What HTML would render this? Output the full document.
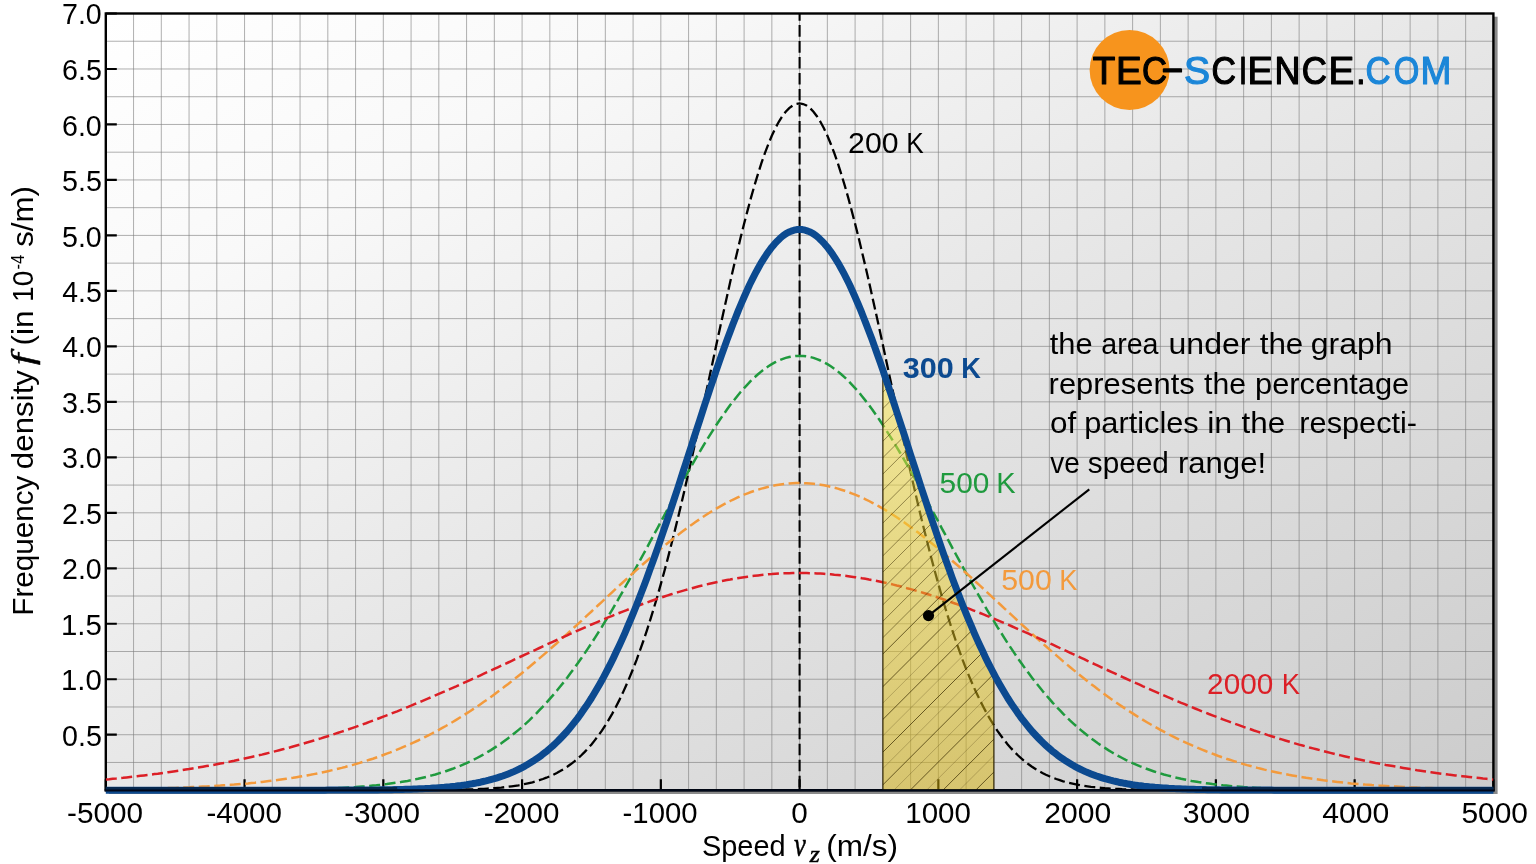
<!DOCTYPE html>
<html lang="en"><head><meta charset="utf-8"><title>Maxwell-Boltzmann distribution of the speed component</title>
<style>html,body{margin:0;padding:0;background:#fff;overflow:hidden}svg{display:block}text{font-family:'Liberation Sans',sans-serif;font-size:29.7px}.s{font-family:'Liberation Serif',serif;font-style:italic;stroke:#000;stroke-width:0.5px}.b{font-weight:bold}</style>
</head><body>
<svg width="1536" height="864" viewBox="0 0 1536 864">
<defs>
<linearGradient id="bg" x1="0" y1="0" x2="1" y2="1"><stop offset="0" stop-color="#ffffff"/><stop offset="0.2" stop-color="#f9f9f9"/><stop offset="0.5" stop-color="#e7e7e7"/><stop offset="1" stop-color="#cccccc"/></linearGradient>
<linearGradient id="yl" x1="0" y1="0" x2="0" y2="1"><stop offset="0" stop-color="#ffea4a"/><stop offset="1" stop-color="#d6b208"/></linearGradient>
<clipPath id="plot"><rect x="105.80" y="13.50" width="1387.60" height="776.70"/></clipPath>
</defs>
<rect width="1536" height="864" fill="#fff"/>
<rect x="108.80" y="16.70" width="1388.80" height="777.30" fill="#8a8a8a"/>
<rect x="105.80" y="13.50" width="1387.60" height="776.70" fill="url(#bg)"/>
<g stroke="#7c7c7c" stroke-opacity="0.6" stroke-width="1" fill="none"><path d="M133.55 13.50V790.20M161.30 13.50V790.20M189.06 13.50V790.20M216.81 13.50V790.20M244.56 13.50V790.20M272.31 13.50V790.20M300.06 13.50V790.20M327.82 13.50V790.20M355.57 13.50V790.20M383.32 13.50V790.20M411.07 13.50V790.20M438.82 13.50V790.20M466.58 13.50V790.20M494.33 13.50V790.20M522.08 13.50V790.20M549.83 13.50V790.20M577.58 13.50V790.20M605.34 13.50V790.20M633.09 13.50V790.20M660.84 13.50V790.20M688.59 13.50V790.20M716.34 13.50V790.20M744.10 13.50V790.20M771.85 13.50V790.20M799.60 13.50V790.20M827.35 13.50V790.20M855.10 13.50V790.20M882.86 13.50V790.20M910.61 13.50V790.20M938.36 13.50V790.20M966.11 13.50V790.20M993.86 13.50V790.20M1021.62 13.50V790.20M1049.37 13.50V790.20M1077.12 13.50V790.20M1104.87 13.50V790.20M1132.62 13.50V790.20M1160.38 13.50V790.20M1188.13 13.50V790.20M1215.88 13.50V790.20M1243.63 13.50V790.20M1271.38 13.50V790.20M1299.14 13.50V790.20M1326.89 13.50V790.20M1354.64 13.50V790.20M1382.39 13.50V790.20M1410.14 13.50V790.20M1437.90 13.50V790.20M1465.65 13.50V790.20"/><path d="M105.80 41.24H1493.40M105.80 68.98H1493.40M105.80 96.72H1493.40M105.80 124.46H1493.40M105.80 152.20H1493.40M105.80 179.94H1493.40M105.80 207.68H1493.40M105.80 235.41H1493.40M105.80 263.15H1493.40M105.80 290.89H1493.40M105.80 318.63H1493.40M105.80 346.37H1493.40M105.80 374.11H1493.40M105.80 401.85H1493.40M105.80 429.59H1493.40M105.80 457.33H1493.40M105.80 485.07H1493.40M105.80 512.81H1493.40M105.80 540.55H1493.40M105.80 568.29H1493.40M105.80 596.02H1493.40M105.80 623.76H1493.40M105.80 651.50H1493.40M105.80 679.24H1493.40M105.80 706.98H1493.40M105.80 734.72H1493.40M105.80 762.46H1493.40"/></g>
<path d="M105.80 790.20V779.20M244.56 790.20V779.20M383.32 790.20V779.20M522.08 790.20V779.20M660.84 790.20V779.20M799.60 790.20V779.20M938.36 790.20V779.20M1077.12 790.20V779.20M1215.88 790.20V779.20M1354.64 790.20V779.20M1493.40 790.20V779.20M105.80 790.20H116.80M105.80 734.72H116.80M105.80 679.24H116.80M105.80 623.76H116.80M105.80 568.29H116.80M105.80 512.81H116.80M105.80 457.33H116.80M105.80 401.85H116.80M105.80 346.37H116.80M105.80 290.89H116.80M105.80 235.41H116.80M105.80 179.94H116.80M105.80 124.46H116.80M105.80 68.98H116.80M105.80 13.50H116.80" stroke="#000" stroke-width="2.2" fill="none"/>
<rect x="105.80" y="13.50" width="1387.60" height="776.70" fill="none" stroke="#000" stroke-width="2.4"/>
<g clip-path="url(#plot)" fill="none" stroke-width="2.5" stroke-dasharray="11 4.5">
<path d="M799.60 13.50V790.20" stroke="#000" stroke-width="2.1" stroke-dasharray="11.6 4.37" stroke-dashoffset="4.4"/>
<path d="M105.8 790.2L109.3 790.2L112.7 790.2L116.2 790.2L119.7 790.2L123.1 790.2L126.6 790.2L130.1 790.2L133.6 790.2L137.0 790.2L140.5 790.2L144.0 790.2L147.4 790.2L150.9 790.2L154.4 790.2L157.8 790.2L161.3 790.2L164.8 790.2L168.2 790.2L171.7 790.2L175.2 790.2L178.6 790.2L182.1 790.2L185.6 790.2L189.1 790.2L192.5 790.2L196.0 790.2L199.5 790.2L202.9 790.2L206.4 790.2L209.9 790.2L213.3 790.2L216.8 790.2L220.3 790.2L223.7 790.2L227.2 790.2L230.7 790.2L234.2 790.2L237.6 790.2L241.1 790.2L244.6 790.2L248.0 790.2L251.5 790.2L255.0 790.2L258.4 790.2L261.9 790.2L265.4 790.2L268.8 790.2L272.3 790.2L275.8 790.2L279.2 790.2L282.7 790.2L286.2 790.2L289.7 790.2L293.1 790.2L296.6 790.2L300.1 790.2L303.5 790.2L307.0 790.2L310.5 790.2L313.9 790.2L317.4 790.2L320.9 790.2L324.3 790.2L327.8 790.2L331.3 790.2L334.8 790.2L338.2 790.2L341.7 790.2L345.2 790.2L348.6 790.2L352.1 790.2L355.6 790.2L359.0 790.2L362.5 790.2L366.0 790.2L369.4 790.2L372.9 790.2L376.4 790.2L379.9 790.2L383.3 790.2L386.8 790.2L390.3 790.2L393.7 790.2L397.2 790.2L400.7 790.2L404.1 790.2L407.6 790.2L411.1 790.1L414.5 790.1L418.0 790.1L421.5 790.1L424.9 790.1L428.4 790.1L431.9 790.1L435.4 790.0L438.8 790.0L442.3 790.0L445.8 789.9L449.2 789.9L452.7 789.8L456.2 789.8L459.6 789.7L463.1 789.6L466.6 789.5L470.0 789.4L473.5 789.3L477.0 789.2L480.5 789.0L483.9 788.8L487.4 788.6L490.9 788.4L494.3 788.2L497.8 787.9L501.3 787.6L504.7 787.2L508.2 786.8L511.7 786.3L515.1 785.8L518.6 785.3L522.1 784.6L525.5 783.9L529.0 783.1L532.5 782.3L536.0 781.3L539.4 780.2L542.9 779.0L546.4 777.7L549.8 776.3L553.3 774.7L556.8 773.0L560.2 771.1L563.7 769.0L567.2 766.7L570.6 764.3L574.1 761.6L577.6 758.7L581.1 755.5L584.5 752.1L588.0 748.4L591.5 744.4L594.9 740.1L598.4 735.5L601.9 730.6L605.3 725.3L608.8 719.6L612.3 713.6L615.7 707.2L619.2 700.4L622.7 693.1L626.1 685.5L629.6 677.4L633.1 668.8L636.6 659.8L640.0 650.4L643.5 640.5L647.0 630.1L650.4 619.3L653.9 608.0L657.4 596.3L660.8 584.1L664.3 571.5L667.8 558.4L671.2 545.0L674.7 531.1L678.2 516.9L681.7 502.3L685.1 487.5L688.6 472.3L692.1 456.9L695.5 441.2L699.0 425.4L702.5 409.4L705.9 393.3L709.4 377.2L712.9 361.0L716.3 344.9L719.8 328.9L723.3 313.0L726.8 297.3L730.2 281.9L733.7 266.7L737.2 252.0L740.6 237.6L744.1 223.7L747.6 210.4L751.0 197.6L754.5 185.4L758.0 173.9L761.4 163.2L764.9 153.2L768.4 144.0L771.8 135.7L775.3 128.3L778.8 121.8L782.3 116.2L785.7 111.7L789.2 108.1L792.7 105.5L796.1 104.0L799.6 103.4L803.1 104.0L806.5 105.5L810.0 108.1L813.5 111.7L816.9 116.2L820.4 121.8L823.9 128.3L827.4 135.7L830.8 144.0L834.3 153.2L837.8 163.2L841.2 173.9L844.7 185.4L848.2 197.6L851.6 210.4L855.1 223.7L858.6 237.6L862.0 252.0L865.5 266.7L869.0 281.9L872.4 297.3L875.9 313.0L879.4 328.9L882.9 344.9L886.3 361.0L889.8 377.2L893.3 393.3L896.7 409.4L900.2 425.4L903.7 441.2L907.1 456.9L910.6 472.3L914.1 487.5L917.5 502.3L921.0 516.9L924.5 531.1L928.0 545.0L931.4 558.4L934.9 571.5L938.4 584.1L941.8 596.3L945.3 608.0L948.8 619.3L952.2 630.1L955.7 640.5L959.2 650.4L962.6 659.8L966.1 668.8L969.6 677.4L973.1 685.5L976.5 693.1L980.0 700.4L983.5 707.2L986.9 713.6L990.4 719.6L993.9 725.3L997.3 730.6L1000.8 735.5L1004.3 740.1L1007.7 744.4L1011.2 748.4L1014.7 752.1L1018.1 755.5L1021.6 758.7L1025.1 761.6L1028.6 764.3L1032.0 766.7L1035.5 769.0L1039.0 771.1L1042.4 773.0L1045.9 774.7L1049.4 776.3L1052.8 777.7L1056.3 779.0L1059.8 780.2L1063.2 781.3L1066.7 782.3L1070.2 783.1L1073.7 783.9L1077.1 784.6L1080.6 785.3L1084.1 785.8L1087.5 786.3L1091.0 786.8L1094.5 787.2L1097.9 787.6L1101.4 787.9L1104.9 788.2L1108.3 788.4L1111.8 788.6L1115.3 788.8L1118.7 789.0L1122.2 789.2L1125.7 789.3L1129.2 789.4L1132.6 789.5L1136.1 789.6L1139.6 789.7L1143.0 789.8L1146.5 789.8L1150.0 789.9L1153.4 789.9L1156.9 790.0L1160.4 790.0L1163.8 790.0L1167.3 790.1L1170.8 790.1L1174.3 790.1L1177.7 790.1L1181.2 790.1L1184.7 790.1L1188.1 790.1L1191.6 790.2L1195.1 790.2L1198.5 790.2L1202.0 790.2L1205.5 790.2L1208.9 790.2L1212.4 790.2L1215.9 790.2L1219.3 790.2L1222.8 790.2L1226.3 790.2L1229.8 790.2L1233.2 790.2L1236.7 790.2L1240.2 790.2L1243.6 790.2L1247.1 790.2L1250.6 790.2L1254.0 790.2L1257.5 790.2L1261.0 790.2L1264.4 790.2L1267.9 790.2L1271.4 790.2L1274.9 790.2L1278.3 790.2L1281.8 790.2L1285.3 790.2L1288.7 790.2L1292.2 790.2L1295.7 790.2L1299.1 790.2L1302.6 790.2L1306.1 790.2L1309.5 790.2L1313.0 790.2L1316.5 790.2L1320.0 790.2L1323.4 790.2L1326.9 790.2L1330.4 790.2L1333.8 790.2L1337.3 790.2L1340.8 790.2L1344.2 790.2L1347.7 790.2L1351.2 790.2L1354.6 790.2L1358.1 790.2L1361.6 790.2L1365.0 790.2L1368.5 790.2L1372.0 790.2L1375.5 790.2L1378.9 790.2L1382.4 790.2L1385.9 790.2L1389.3 790.2L1392.8 790.2L1396.3 790.2L1399.7 790.2L1403.2 790.2L1406.7 790.2L1410.1 790.2L1413.6 790.2L1417.1 790.2L1420.6 790.2L1424.0 790.2L1427.5 790.2L1431.0 790.2L1434.4 790.2L1437.9 790.2L1441.4 790.2L1444.8 790.2L1448.3 790.2L1451.8 790.2L1455.2 790.2L1458.7 790.2L1462.2 790.2L1465.6 790.2L1469.1 790.2L1472.6 790.2L1476.1 790.2L1479.5 790.2L1483.0 790.2L1486.5 790.2L1489.9 790.2L1493.4 790.2" stroke="#000" stroke-width="2.3"/>
<path d="M105.8 790.2L109.3 790.2L112.7 790.2L116.2 790.2L119.7 790.2L123.1 790.2L126.6 790.2L130.1 790.2L133.6 790.2L137.0 790.2L140.5 790.2L144.0 790.2L147.4 790.2L150.9 790.2L154.4 790.2L157.8 790.2L161.3 790.2L164.8 790.2L168.2 790.2L171.7 790.2L175.2 790.2L178.6 790.2L182.1 790.2L185.6 790.2L189.1 790.2L192.5 790.2L196.0 790.2L199.5 790.1L202.9 790.1L206.4 790.1L209.9 790.1L213.3 790.1L216.8 790.1L220.3 790.1L223.7 790.1L227.2 790.1L230.7 790.1L234.2 790.1L237.6 790.0L241.1 790.0L244.6 790.0L248.0 790.0L251.5 790.0L255.0 789.9L258.4 789.9L261.9 789.9L265.4 789.9L268.8 789.8L272.3 789.8L275.8 789.7L279.2 789.7L282.7 789.7L286.2 789.6L289.7 789.5L293.1 789.5L296.6 789.4L300.1 789.4L303.5 789.3L307.0 789.2L310.5 789.1L313.9 789.0L317.4 788.9L320.9 788.8L324.3 788.7L327.8 788.5L331.3 788.4L334.8 788.2L338.2 788.1L341.7 787.9L345.2 787.7L348.6 787.5L352.1 787.3L355.6 787.1L359.0 786.8L362.5 786.5L366.0 786.3L369.4 785.9L372.9 785.6L376.4 785.3L379.9 784.9L383.3 784.5L386.8 784.1L390.3 783.6L393.7 783.1L397.2 782.6L400.7 782.1L404.1 781.5L407.6 780.9L411.1 780.2L414.5 779.5L418.0 778.8L421.5 778.0L424.9 777.2L428.4 776.3L431.9 775.4L435.4 774.5L438.8 773.4L442.3 772.4L445.8 771.2L449.2 770.0L452.7 768.8L456.2 767.4L459.6 766.1L463.1 764.6L466.6 763.1L470.0 761.5L473.5 759.8L477.0 758.0L480.5 756.2L483.9 754.2L487.4 752.2L490.9 750.1L494.3 747.9L497.8 745.7L501.3 743.3L504.7 740.8L508.2 738.2L511.7 735.5L515.1 732.8L518.6 729.9L522.1 726.9L525.5 723.8L529.0 720.6L532.5 717.2L536.0 713.8L539.4 710.2L542.9 706.6L546.4 702.8L549.8 698.9L553.3 694.9L556.8 690.8L560.2 686.5L563.7 682.2L567.2 677.7L570.6 673.1L574.1 668.4L577.6 663.5L581.1 658.6L584.5 653.6L588.0 648.4L591.5 643.2L594.9 637.8L598.4 632.3L601.9 626.8L605.3 621.1L608.8 615.4L612.3 609.6L615.7 603.7L619.2 597.7L622.7 591.6L626.1 585.5L629.6 579.3L633.1 573.0L636.6 566.7L640.0 560.4L643.5 554.0L647.0 547.6L650.4 541.2L653.9 534.7L657.4 528.3L660.8 521.8L664.3 515.4L667.8 508.9L671.2 502.5L674.7 496.1L678.2 489.8L681.7 483.5L685.1 477.2L688.6 471.0L692.1 464.9L695.5 458.9L699.0 453.0L702.5 447.1L705.9 441.4L709.4 435.8L712.9 430.3L716.3 425.0L719.8 419.8L723.3 414.7L726.8 409.8L730.2 405.1L733.7 400.6L737.2 396.2L740.6 392.0L744.1 388.1L747.6 384.3L751.0 380.7L754.5 377.4L758.0 374.3L761.4 371.4L764.9 368.7L768.4 366.3L771.8 364.1L775.3 362.2L778.8 360.5L782.3 359.1L785.7 357.9L789.2 357.0L792.7 356.4L796.1 356.0L799.6 355.9L803.1 356.0L806.5 356.4L810.0 357.0L813.5 357.9L816.9 359.1L820.4 360.5L823.9 362.2L827.4 364.1L830.8 366.3L834.3 368.7L837.8 371.4L841.2 374.3L844.7 377.4L848.2 380.7L851.6 384.3L855.1 388.1L858.6 392.0L862.0 396.2L865.5 400.6L869.0 405.1L872.4 409.8L875.9 414.7L879.4 419.8L882.9 425.0L886.3 430.3L889.8 435.8L893.3 441.4L896.7 447.1L900.2 453.0L903.7 458.9L907.1 464.9L910.6 471.0L914.1 477.2L917.5 483.5L921.0 489.8L924.5 496.1L928.0 502.5L931.4 508.9L934.9 515.4L938.4 521.8L941.8 528.3L945.3 534.7L948.8 541.2L952.2 547.6L955.7 554.0L959.2 560.4L962.6 566.7L966.1 573.0L969.6 579.3L973.1 585.5L976.5 591.6L980.0 597.7L983.5 603.7L986.9 609.6L990.4 615.4L993.9 621.1L997.3 626.8L1000.8 632.3L1004.3 637.8L1007.7 643.2L1011.2 648.4L1014.7 653.6L1018.1 658.6L1021.6 663.5L1025.1 668.4L1028.6 673.1L1032.0 677.7L1035.5 682.2L1039.0 686.5L1042.4 690.8L1045.9 694.9L1049.4 698.9L1052.8 702.8L1056.3 706.6L1059.8 710.2L1063.2 713.8L1066.7 717.2L1070.2 720.6L1073.7 723.8L1077.1 726.9L1080.6 729.9L1084.1 732.8L1087.5 735.5L1091.0 738.2L1094.5 740.8L1097.9 743.3L1101.4 745.7L1104.9 747.9L1108.3 750.1L1111.8 752.2L1115.3 754.2L1118.7 756.2L1122.2 758.0L1125.7 759.8L1129.2 761.5L1132.6 763.1L1136.1 764.6L1139.6 766.1L1143.0 767.4L1146.5 768.8L1150.0 770.0L1153.4 771.2L1156.9 772.4L1160.4 773.4L1163.8 774.5L1167.3 775.4L1170.8 776.3L1174.3 777.2L1177.7 778.0L1181.2 778.8L1184.7 779.5L1188.1 780.2L1191.6 780.9L1195.1 781.5L1198.5 782.1L1202.0 782.6L1205.5 783.1L1208.9 783.6L1212.4 784.1L1215.9 784.5L1219.3 784.9L1222.8 785.3L1226.3 785.6L1229.8 785.9L1233.2 786.3L1236.7 786.5L1240.2 786.8L1243.6 787.1L1247.1 787.3L1250.6 787.5L1254.0 787.7L1257.5 787.9L1261.0 788.1L1264.4 788.2L1267.9 788.4L1271.4 788.5L1274.9 788.7L1278.3 788.8L1281.8 788.9L1285.3 789.0L1288.7 789.1L1292.2 789.2L1295.7 789.3L1299.1 789.4L1302.6 789.4L1306.1 789.5L1309.5 789.5L1313.0 789.6L1316.5 789.7L1320.0 789.7L1323.4 789.7L1326.9 789.8L1330.4 789.8L1333.8 789.9L1337.3 789.9L1340.8 789.9L1344.2 789.9L1347.7 790.0L1351.2 790.0L1354.6 790.0L1358.1 790.0L1361.6 790.0L1365.0 790.1L1368.5 790.1L1372.0 790.1L1375.5 790.1L1378.9 790.1L1382.4 790.1L1385.9 790.1L1389.3 790.1L1392.8 790.1L1396.3 790.1L1399.7 790.1L1403.2 790.2L1406.7 790.2L1410.1 790.2L1413.6 790.2L1417.1 790.2L1420.6 790.2L1424.0 790.2L1427.5 790.2L1431.0 790.2L1434.4 790.2L1437.9 790.2L1441.4 790.2L1444.8 790.2L1448.3 790.2L1451.8 790.2L1455.2 790.2L1458.7 790.2L1462.2 790.2L1465.6 790.2L1469.1 790.2L1472.6 790.2L1476.1 790.2L1479.5 790.2L1483.0 790.2L1486.5 790.2L1489.9 790.2L1493.4 790.2" stroke="#1f9a3e"/>
<path d="M105.8 789.5L109.3 789.4L112.7 789.4L116.2 789.3L119.7 789.3L123.1 789.2L126.6 789.1L130.1 789.1L133.6 789.0L137.0 788.9L140.5 788.9L144.0 788.8L147.4 788.7L150.9 788.6L154.4 788.5L157.8 788.4L161.3 788.3L164.8 788.2L168.2 788.1L171.7 788.0L175.2 787.9L178.6 787.7L182.1 787.6L185.6 787.4L189.1 787.3L192.5 787.1L196.0 787.0L199.5 786.8L202.9 786.6L206.4 786.4L209.9 786.2L213.3 786.0L216.8 785.8L220.3 785.6L223.7 785.3L227.2 785.1L230.7 784.8L234.2 784.6L237.6 784.3L241.1 784.0L244.6 783.7L248.0 783.4L251.5 783.0L255.0 782.7L258.4 782.3L261.9 781.9L265.4 781.5L268.8 781.1L272.3 780.7L275.8 780.3L279.2 779.8L282.7 779.3L286.2 778.8L289.7 778.3L293.1 777.8L296.6 777.2L300.1 776.6L303.5 776.0L307.0 775.4L310.5 774.8L313.9 774.1L317.4 773.4L320.9 772.7L324.3 772.0L327.8 771.2L331.3 770.4L334.8 769.6L338.2 768.7L341.7 767.9L345.2 767.0L348.6 766.0L352.1 765.1L355.6 764.1L359.0 763.1L362.5 762.0L366.0 760.9L369.4 759.8L372.9 758.7L376.4 757.5L379.9 756.3L383.3 755.0L386.8 753.7L390.3 752.4L393.7 751.0L397.2 749.6L400.7 748.2L404.1 746.7L407.6 745.2L411.1 743.7L414.5 742.1L418.0 740.5L421.5 738.8L424.9 737.1L428.4 735.3L431.9 733.5L435.4 731.7L438.8 729.9L442.3 727.9L445.8 726.0L449.2 724.0L452.7 722.0L456.2 719.9L459.6 717.8L463.1 715.6L466.6 713.4L470.0 711.2L473.5 708.9L477.0 706.6L480.5 704.2L483.9 701.8L487.4 699.4L490.9 696.9L494.3 694.4L497.8 691.8L501.3 689.3L504.7 686.6L508.2 684.0L511.7 681.2L515.1 678.5L518.6 675.7L522.1 672.9L525.5 670.1L529.0 667.2L532.5 664.3L536.0 661.4L539.4 658.4L542.9 655.4L546.4 652.4L549.8 649.4L553.3 646.3L556.8 643.2L560.2 640.1L563.7 637.0L567.2 633.9L570.6 630.7L574.1 627.5L577.6 624.4L581.1 621.2L584.5 617.9L588.0 614.7L591.5 611.5L594.9 608.3L598.4 605.0L601.9 601.8L605.3 598.6L608.8 595.4L612.3 592.1L615.7 588.9L619.2 585.7L622.7 582.5L626.1 579.3L629.6 576.2L633.1 573.0L636.6 569.9L640.0 566.8L643.5 563.7L647.0 560.7L650.4 557.7L653.9 554.7L657.4 551.7L660.8 548.8L664.3 545.9L667.8 543.0L671.2 540.2L674.7 537.5L678.2 534.8L681.7 532.1L685.1 529.5L688.6 526.9L692.1 524.4L695.5 522.0L699.0 519.6L702.5 517.2L705.9 515.0L709.4 512.8L712.9 510.6L716.3 508.6L719.8 506.6L723.3 504.6L726.8 502.8L730.2 501.0L733.7 499.3L737.2 497.7L740.6 496.1L744.1 494.7L747.6 493.3L751.0 492.0L754.5 490.8L758.0 489.7L761.4 488.6L764.9 487.7L768.4 486.8L771.8 486.0L775.3 485.3L778.8 484.7L782.3 484.2L785.7 483.8L789.2 483.5L792.7 483.3L796.1 483.1L799.6 483.1L803.1 483.1L806.5 483.3L810.0 483.5L813.5 483.8L816.9 484.2L820.4 484.7L823.9 485.3L827.4 486.0L830.8 486.8L834.3 487.7L837.8 488.6L841.2 489.7L844.7 490.8L848.2 492.0L851.6 493.3L855.1 494.7L858.6 496.1L862.0 497.7L865.5 499.3L869.0 501.0L872.4 502.8L875.9 504.6L879.4 506.6L882.9 508.6L886.3 510.6L889.8 512.8L893.3 515.0L896.7 517.2L900.2 519.6L903.7 522.0L907.1 524.4L910.6 526.9L914.1 529.5L917.5 532.1L921.0 534.8L924.5 537.5L928.0 540.2L931.4 543.0L934.9 545.9L938.4 548.8L941.8 551.7L945.3 554.7L948.8 557.7L952.2 560.7L955.7 563.7L959.2 566.8L962.6 569.9L966.1 573.0L969.6 576.2L973.1 579.3L976.5 582.5L980.0 585.7L983.5 588.9L986.9 592.1L990.4 595.4L993.9 598.6L997.3 601.8L1000.8 605.0L1004.3 608.3L1007.7 611.5L1011.2 614.7L1014.7 617.9L1018.1 621.2L1021.6 624.4L1025.1 627.5L1028.6 630.7L1032.0 633.9L1035.5 637.0L1039.0 640.1L1042.4 643.2L1045.9 646.3L1049.4 649.4L1052.8 652.4L1056.3 655.4L1059.8 658.4L1063.2 661.4L1066.7 664.3L1070.2 667.2L1073.7 670.1L1077.1 672.9L1080.6 675.7L1084.1 678.5L1087.5 681.2L1091.0 684.0L1094.5 686.6L1097.9 689.3L1101.4 691.8L1104.9 694.4L1108.3 696.9L1111.8 699.4L1115.3 701.8L1118.7 704.2L1122.2 706.6L1125.7 708.9L1129.2 711.2L1132.6 713.4L1136.1 715.6L1139.6 717.8L1143.0 719.9L1146.5 722.0L1150.0 724.0L1153.4 726.0L1156.9 727.9L1160.4 729.9L1163.8 731.7L1167.3 733.5L1170.8 735.3L1174.3 737.1L1177.7 738.8L1181.2 740.5L1184.7 742.1L1188.1 743.7L1191.6 745.2L1195.1 746.7L1198.5 748.2L1202.0 749.6L1205.5 751.0L1208.9 752.4L1212.4 753.7L1215.9 755.0L1219.3 756.3L1222.8 757.5L1226.3 758.7L1229.8 759.8L1233.2 760.9L1236.7 762.0L1240.2 763.1L1243.6 764.1L1247.1 765.1L1250.6 766.0L1254.0 767.0L1257.5 767.9L1261.0 768.7L1264.4 769.6L1267.9 770.4L1271.4 771.2L1274.9 772.0L1278.3 772.7L1281.8 773.4L1285.3 774.1L1288.7 774.8L1292.2 775.4L1295.7 776.0L1299.1 776.6L1302.6 777.2L1306.1 777.8L1309.5 778.3L1313.0 778.8L1316.5 779.3L1320.0 779.8L1323.4 780.3L1326.9 780.7L1330.4 781.1L1333.8 781.5L1337.3 781.9L1340.8 782.3L1344.2 782.7L1347.7 783.0L1351.2 783.4L1354.6 783.7L1358.1 784.0L1361.6 784.3L1365.0 784.6L1368.5 784.8L1372.0 785.1L1375.5 785.3L1378.9 785.6L1382.4 785.8L1385.9 786.0L1389.3 786.2L1392.8 786.4L1396.3 786.6L1399.7 786.8L1403.2 787.0L1406.7 787.1L1410.1 787.3L1413.6 787.4L1417.1 787.6L1420.6 787.7L1424.0 787.9L1427.5 788.0L1431.0 788.1L1434.4 788.2L1437.9 788.3L1441.4 788.4L1444.8 788.5L1448.3 788.6L1451.8 788.7L1455.2 788.8L1458.7 788.9L1462.2 788.9L1465.6 789.0L1469.1 789.1L1472.6 789.1L1476.1 789.2L1479.5 789.3L1483.0 789.3L1486.5 789.4L1489.9 789.4L1493.4 789.5" stroke="#f39a3c"/>
<path d="M105.8 779.5L109.3 779.2L112.7 778.8L116.2 778.5L119.7 778.1L123.1 777.8L126.6 777.4L130.1 777.0L133.6 776.6L137.0 776.2L140.5 775.8L144.0 775.4L147.4 775.0L150.9 774.6L154.4 774.1L157.8 773.7L161.3 773.2L164.8 772.7L168.2 772.2L171.7 771.7L175.2 771.2L178.6 770.7L182.1 770.2L185.6 769.6L189.1 769.1L192.5 768.5L196.0 767.9L199.5 767.3L202.9 766.7L206.4 766.1L209.9 765.5L213.3 764.9L216.8 764.2L220.3 763.5L223.7 762.9L227.2 762.2L230.7 761.5L234.2 760.8L237.6 760.0L241.1 759.3L244.6 758.5L248.0 757.8L251.5 757.0L255.0 756.2L258.4 755.4L261.9 754.6L265.4 753.7L268.8 752.9L272.3 752.0L275.8 751.1L279.2 750.2L282.7 749.3L286.2 748.4L289.7 747.5L293.1 746.5L296.6 745.5L300.1 744.6L303.5 743.6L307.0 742.5L310.5 741.5L313.9 740.5L317.4 739.4L320.9 738.4L324.3 737.3L327.8 736.2L331.3 735.1L334.8 733.9L338.2 732.8L341.7 731.6L345.2 730.5L348.6 729.3L352.1 728.1L355.6 726.9L359.0 725.6L362.5 724.4L366.0 723.2L369.4 721.9L372.9 720.6L376.4 719.3L379.9 718.0L383.3 716.7L386.8 715.3L390.3 714.0L393.7 712.6L397.2 711.3L400.7 709.9L404.1 708.5L407.6 707.1L411.1 705.7L414.5 704.2L418.0 702.8L421.5 701.3L424.9 699.9L428.4 698.4L431.9 696.9L435.4 695.4L438.8 693.9L442.3 692.4L445.8 690.9L449.2 689.4L452.7 687.8L456.2 686.3L459.6 684.7L463.1 683.2L466.6 681.6L470.0 680.1L473.5 678.5L477.0 676.9L480.5 675.3L483.9 673.7L487.4 672.1L490.9 670.5L494.3 668.9L497.8 667.3L501.3 665.7L504.7 664.1L508.2 662.5L511.7 660.9L515.1 659.2L518.6 657.6L522.1 656.0L525.5 654.4L529.0 652.8L532.5 651.2L536.0 649.6L539.4 648.0L542.9 646.3L546.4 644.7L549.8 643.2L553.3 641.6L556.8 640.0L560.2 638.4L563.7 636.8L567.2 635.3L570.6 633.7L574.1 632.2L577.6 630.6L581.1 629.1L584.5 627.6L588.0 626.0L591.5 624.5L594.9 623.1L598.4 621.6L601.9 620.1L605.3 618.7L608.8 617.2L612.3 615.8L615.7 614.4L619.2 613.0L622.7 611.6L626.1 610.3L629.6 608.9L633.1 607.6L636.6 606.3L640.0 605.0L643.5 603.7L647.0 602.5L650.4 601.2L653.9 600.0L657.4 598.8L660.8 597.7L664.3 596.5L667.8 595.4L671.2 594.3L674.7 593.2L678.2 592.1L681.7 591.1L685.1 590.1L688.6 589.1L692.1 588.2L695.5 587.2L699.0 586.3L702.5 585.5L705.9 584.6L709.4 583.8L712.9 583.0L716.3 582.2L719.8 581.5L723.3 580.8L726.8 580.1L730.2 579.5L733.7 578.8L737.2 578.3L740.6 577.7L744.1 577.2L747.6 576.7L751.0 576.2L754.5 575.8L758.0 575.4L761.4 575.0L764.9 574.7L768.4 574.3L771.8 574.1L775.3 573.8L778.8 573.6L782.3 573.4L785.7 573.3L789.2 573.2L792.7 573.1L796.1 573.0L799.6 573.0L803.1 573.0L806.5 573.1L810.0 573.2L813.5 573.3L816.9 573.4L820.4 573.6L823.9 573.8L827.4 574.1L830.8 574.3L834.3 574.7L837.8 575.0L841.2 575.4L844.7 575.8L848.2 576.2L851.6 576.7L855.1 577.2L858.6 577.7L862.0 578.3L865.5 578.8L869.0 579.5L872.4 580.1L875.9 580.8L879.4 581.5L882.9 582.2L886.3 583.0L889.8 583.8L893.3 584.6L896.7 585.5L900.2 586.3L903.7 587.2L907.1 588.2L910.6 589.1L914.1 590.1L917.5 591.1L921.0 592.1L924.5 593.2L928.0 594.3L931.4 595.4L934.9 596.5L938.4 597.7L941.8 598.8L945.3 600.0L948.8 601.2L952.2 602.5L955.7 603.7L959.2 605.0L962.6 606.3L966.1 607.6L969.6 608.9L973.1 610.3L976.5 611.6L980.0 613.0L983.5 614.4L986.9 615.8L990.4 617.2L993.9 618.7L997.3 620.1L1000.8 621.6L1004.3 623.1L1007.7 624.5L1011.2 626.0L1014.7 627.6L1018.1 629.1L1021.6 630.6L1025.1 632.2L1028.6 633.7L1032.0 635.3L1035.5 636.8L1039.0 638.4L1042.4 640.0L1045.9 641.6L1049.4 643.2L1052.8 644.7L1056.3 646.3L1059.8 648.0L1063.2 649.6L1066.7 651.2L1070.2 652.8L1073.7 654.4L1077.1 656.0L1080.6 657.6L1084.1 659.2L1087.5 660.9L1091.0 662.5L1094.5 664.1L1097.9 665.7L1101.4 667.3L1104.9 668.9L1108.3 670.5L1111.8 672.1L1115.3 673.7L1118.7 675.3L1122.2 676.9L1125.7 678.5L1129.2 680.1L1132.6 681.6L1136.1 683.2L1139.6 684.7L1143.0 686.3L1146.5 687.8L1150.0 689.4L1153.4 690.9L1156.9 692.4L1160.4 693.9L1163.8 695.4L1167.3 696.9L1170.8 698.4L1174.3 699.9L1177.7 701.3L1181.2 702.8L1184.7 704.2L1188.1 705.7L1191.6 707.1L1195.1 708.5L1198.5 709.9L1202.0 711.3L1205.5 712.6L1208.9 714.0L1212.4 715.3L1215.9 716.7L1219.3 718.0L1222.8 719.3L1226.3 720.6L1229.8 721.9L1233.2 723.2L1236.7 724.4L1240.2 725.6L1243.6 726.9L1247.1 728.1L1250.6 729.3L1254.0 730.5L1257.5 731.6L1261.0 732.8L1264.4 733.9L1267.9 735.1L1271.4 736.2L1274.9 737.3L1278.3 738.4L1281.8 739.4L1285.3 740.5L1288.7 741.5L1292.2 742.5L1295.7 743.6L1299.1 744.6L1302.6 745.5L1306.1 746.5L1309.5 747.5L1313.0 748.4L1316.5 749.3L1320.0 750.2L1323.4 751.1L1326.9 752.0L1330.4 752.9L1333.8 753.7L1337.3 754.6L1340.8 755.4L1344.2 756.2L1347.7 757.0L1351.2 757.8L1354.6 758.5L1358.1 759.3L1361.6 760.0L1365.0 760.8L1368.5 761.5L1372.0 762.2L1375.5 762.9L1378.9 763.5L1382.4 764.2L1385.9 764.9L1389.3 765.5L1392.8 766.1L1396.3 766.7L1399.7 767.3L1403.2 767.9L1406.7 768.5L1410.1 769.1L1413.6 769.6L1417.1 770.2L1420.6 770.7L1424.0 771.2L1427.5 771.7L1431.0 772.2L1434.4 772.7L1437.9 773.2L1441.4 773.7L1444.8 774.1L1448.3 774.6L1451.8 775.0L1455.2 775.4L1458.7 775.8L1462.2 776.2L1465.6 776.6L1469.1 777.0L1472.6 777.4L1476.1 777.8L1479.5 778.1L1483.0 778.5L1486.5 778.8L1489.9 779.2L1493.4 779.5" stroke="#dc1f26"/>
</g>
<clipPath id="area"><path d="M882.9 790.2L882.9 370.1L884.7 375.6L886.6 381.0L888.4 386.5L890.3 392.1L892.1 397.7L894.0 403.3L895.8 408.9L897.7 414.6L899.5 420.3L901.4 426.0L903.2 431.7L905.1 437.4L906.9 443.2L908.8 448.9L910.6 454.7L912.5 460.4L914.3 466.1L916.2 471.9L918.0 477.6L919.9 483.3L921.7 489.0L923.6 494.6L925.4 500.3L927.3 505.9L929.1 511.4L931.0 517.0L932.8 522.5L934.7 528.0L936.5 533.4L938.4 538.8L940.2 544.2L942.1 549.5L943.9 554.8L945.8 560.0L947.6 565.1L949.5 570.2L951.3 575.3L953.2 580.3L955.0 585.2L956.9 590.1L958.7 594.9L960.6 599.7L962.4 604.4L964.3 609.0L966.1 613.6L968.0 618.1L969.8 622.5L971.7 626.9L973.5 631.2L975.4 635.4L977.2 639.6L979.1 643.7L980.9 647.7L982.8 651.6L984.6 655.5L986.5 659.3L988.3 663.1L990.2 666.7L992.0 670.3L993.9 673.8L993.9 790.2Z"/></clipPath>
<path d="M882.9 790.2L882.9 370.1L884.7 375.6L886.6 381.0L888.4 386.5L890.3 392.1L892.1 397.7L894.0 403.3L895.8 408.9L897.7 414.6L899.5 420.3L901.4 426.0L903.2 431.7L905.1 437.4L906.9 443.2L908.8 448.9L910.6 454.7L912.5 460.4L914.3 466.1L916.2 471.9L918.0 477.6L919.9 483.3L921.7 489.0L923.6 494.6L925.4 500.3L927.3 505.9L929.1 511.4L931.0 517.0L932.8 522.5L934.7 528.0L936.5 533.4L938.4 538.8L940.2 544.2L942.1 549.5L943.9 554.8L945.8 560.0L947.6 565.1L949.5 570.2L951.3 575.3L953.2 580.3L955.0 585.2L956.9 590.1L958.7 594.9L960.6 599.7L962.4 604.4L964.3 609.0L966.1 613.6L968.0 618.1L969.8 622.5L971.7 626.9L973.5 631.2L975.4 635.4L977.2 639.6L979.1 643.7L980.9 647.7L982.8 651.6L984.6 655.5L986.5 659.3L988.3 663.1L990.2 666.7L992.0 670.3L993.9 673.8L993.9 790.2Z" fill="url(#yl)" fill-opacity="0.5"/>
<g clip-path="url(#area)" fill="none" stroke="#3a2c00" stroke-width="1"><path d="M877.9 642.6l200 -200M877.9 626.2l200 -200M877.9 609.8l200 -200M877.9 593.5l200 -200M877.9 577.1l200 -200M877.9 560.8l200 -200M877.9 544.4l200 -200M877.9 528.0l200 -200M877.9 511.7l200 -200M877.9 495.3l200 -200M877.9 479.0l200 -200M877.9 462.6l200 -200M877.9 446.2l200 -200M877.9 429.9l200 -200M877.9 413.5l200 -200M877.9 397.2l200 -200M877.9 380.8l200 -200M877.9 364.4l200 -200M877.9 348.1l200 -200M877.9 331.7l200 -200M877.9 315.4l200 -200" stroke-opacity="0.5"/><path d="M877.9 1018.8l200 -200M877.9 986.1l200 -200M877.9 953.4l200 -200M877.9 920.7l200 -200M877.9 888.0l200 -200M877.9 855.2l200 -200M877.9 822.5l200 -200M877.9 789.8l200 -200M877.9 757.1l200 -200M877.9 724.4l200 -200M877.9 691.6l200 -200M877.9 658.9l200 -200" stroke-opacity="0.72"/><path d="M877.9 1002.5l200 -200M877.9 969.8l200 -200M877.9 937.0l200 -200M877.9 904.3l200 -200M877.9 871.6l200 -200M877.9 838.9l200 -200M877.9 806.2l200 -200M877.9 773.4l200 -200M877.9 740.7l200 -200M877.9 708.0l200 -200M877.9 675.3l200 -200" stroke-opacity="0.25"/></g>
<path d="M882.86 790.20V370.13M993.86 790.20V673.84" stroke="#2a2000" stroke-opacity="0.8" stroke-width="1.4" fill="none"/>
<path d="M105.8 790.2L108.6 790.2L111.4 790.2L114.1 790.2L116.9 790.2L119.7 790.2L122.5 790.2L125.2 790.2L128.0 790.2L130.8 790.2L133.6 790.2L136.3 790.2L139.1 790.2L141.9 790.2L144.7 790.2L147.4 790.2L150.2 790.2L153.0 790.2L155.8 790.2L158.5 790.2L161.3 790.2L164.1 790.2L166.9 790.2L169.6 790.2L172.4 790.2L175.2 790.2L178.0 790.2L180.7 790.2L183.5 790.2L186.3 790.2L189.1 790.2L191.8 790.2L194.6 790.2L197.4 790.2L200.2 790.2L202.9 790.2L205.7 790.2L208.5 790.2L211.3 790.2L214.0 790.2L216.8 790.2L219.6 790.2L222.4 790.2L225.1 790.2L227.9 790.2L230.7 790.2L233.5 790.2L236.2 790.2L239.0 790.2L241.8 790.2L244.6 790.2L247.3 790.2L250.1 790.2L252.9 790.2L255.7 790.2L258.4 790.2L261.2 790.2L264.0 790.2L266.8 790.2L269.5 790.2L272.3 790.2L275.1 790.2L277.9 790.2L280.6 790.2L283.4 790.2L286.2 790.2L289.0 790.2L291.7 790.2L294.5 790.2L297.3 790.2L300.1 790.2L302.8 790.2L305.6 790.2L308.4 790.2L311.2 790.2L313.9 790.2L316.7 790.2L319.5 790.2L322.3 790.2L325.0 790.2L327.8 790.1L330.6 790.1L333.4 790.1L336.1 790.1L338.9 790.1L341.7 790.1L344.5 790.1L347.2 790.1L350.0 790.1L352.8 790.1L355.6 790.0L358.3 790.0L361.1 790.0L363.9 790.0L366.7 790.0L369.4 789.9L372.2 789.9L375.0 789.9L377.8 789.9L380.5 789.8L383.3 789.8L386.1 789.7L388.9 789.7L391.6 789.7L394.4 789.6L397.2 789.5L400.0 789.5L402.7 789.4L405.5 789.3L408.3 789.2L411.1 789.2L413.8 789.1L416.6 789.0L419.4 788.8L422.2 788.7L424.9 788.6L427.7 788.4L430.5 788.3L433.3 788.1L436.0 787.9L438.8 787.7L441.6 787.5L444.4 787.3L447.1 787.0L449.9 786.8L452.7 786.5L455.5 786.2L458.3 785.8L461.0 785.5L463.8 785.1L466.6 784.7L469.4 784.2L472.1 783.8L474.9 783.3L477.7 782.7L480.5 782.2L483.2 781.5L486.0 780.9L488.8 780.2L491.6 779.4L494.3 778.7L497.1 777.8L499.9 776.9L502.7 776.0L505.4 775.0L508.2 773.9L511.0 772.8L513.8 771.6L516.5 770.3L519.3 769.0L522.1 767.6L524.9 766.1L527.6 764.5L530.4 762.8L533.2 761.1L536.0 759.2L538.7 757.3L541.5 755.3L544.3 753.1L547.1 750.9L549.8 748.5L552.6 746.1L555.4 743.5L558.2 740.8L560.9 738.0L563.7 735.0L566.5 732.0L569.3 728.7L572.0 725.4L574.8 721.9L577.6 718.3L580.4 714.5L583.1 710.6L585.9 706.6L588.7 702.4L591.5 698.0L594.2 693.5L597.0 688.8L599.8 684.0L602.6 679.0L605.3 673.8L608.1 668.5L610.9 663.1L613.7 657.4L616.4 651.6L619.2 645.7L622.0 639.6L624.8 633.3L627.5 626.9L630.3 620.3L633.1 613.6L635.9 606.7L638.6 599.7L641.4 592.5L644.2 585.2L647.0 577.8L649.7 570.2L652.5 562.6L655.3 554.8L658.1 546.9L660.8 538.8L663.6 530.7L666.4 522.5L669.2 514.2L671.9 505.9L674.7 497.4L677.5 489.0L680.3 480.4L683.0 471.9L685.8 463.3L688.6 454.7L691.4 446.0L694.1 437.4L696.9 428.8L699.7 420.3L702.5 411.7L705.2 403.3L708.0 394.9L710.8 386.5L713.6 378.3L716.3 370.1L719.1 362.1L721.9 354.2L724.7 346.4L727.4 338.8L730.2 331.4L733.0 324.1L735.8 317.0L738.5 310.1L741.3 303.5L744.1 297.0L746.9 290.8L749.6 284.8L752.4 279.1L755.2 273.7L758.0 268.5L760.7 263.6L763.5 259.1L766.3 254.8L769.1 250.8L771.8 247.2L774.6 243.9L777.4 240.9L780.2 238.2L782.9 235.9L785.7 233.9L788.5 232.3L791.3 231.1L794.0 230.2L796.8 229.6L799.6 229.5L802.4 229.6L805.2 230.2L807.9 231.1L810.7 232.3L813.5 233.9L816.3 235.9L819.0 238.2L821.8 240.9L824.6 243.9L827.4 247.2L830.1 250.8L832.9 254.8L835.7 259.1L838.5 263.6L841.2 268.5L844.0 273.7L846.8 279.1L849.6 284.8L852.3 290.8L855.1 297.0L857.9 303.5L860.7 310.1L863.4 317.0L866.2 324.1L869.0 331.4L871.8 338.8L874.5 346.4L877.3 354.2L880.1 362.1L882.9 370.1L885.6 378.3L888.4 386.5L891.2 394.9L894.0 403.3L896.7 411.7L899.5 420.3L902.3 428.8L905.1 437.4L907.8 446.0L910.6 454.7L913.4 463.3L916.2 471.9L918.9 480.4L921.7 489.0L924.5 497.4L927.3 505.9L930.0 514.2L932.8 522.5L935.6 530.7L938.4 538.8L941.1 546.9L943.9 554.8L946.7 562.6L949.5 570.2L952.2 577.8L955.0 585.2L957.8 592.5L960.6 599.7L963.3 606.7L966.1 613.6L968.9 620.3L971.7 626.9L974.4 633.3L977.2 639.6L980.0 645.7L982.8 651.6L985.5 657.4L988.3 663.1L991.1 668.5L993.9 673.8L996.6 679.0L999.4 684.0L1002.2 688.8L1005.0 693.5L1007.7 698.0L1010.5 702.4L1013.3 706.6L1016.1 710.6L1018.8 714.5L1021.6 718.3L1024.4 721.9L1027.2 725.4L1029.9 728.7L1032.7 732.0L1035.5 735.0L1038.3 738.0L1041.0 740.8L1043.8 743.5L1046.6 746.1L1049.4 748.5L1052.1 750.9L1054.9 753.1L1057.7 755.3L1060.5 757.3L1063.2 759.2L1066.0 761.1L1068.8 762.8L1071.6 764.5L1074.3 766.1L1077.1 767.6L1079.9 769.0L1082.7 770.3L1085.4 771.6L1088.2 772.8L1091.0 773.9L1093.8 775.0L1096.5 776.0L1099.3 776.9L1102.1 777.8L1104.9 778.7L1107.6 779.4L1110.4 780.2L1113.2 780.9L1116.0 781.5L1118.7 782.2L1121.5 782.7L1124.3 783.3L1127.1 783.8L1129.8 784.2L1132.6 784.7L1135.4 785.1L1138.2 785.5L1140.9 785.8L1143.7 786.2L1146.5 786.5L1149.3 786.8L1152.1 787.0L1154.8 787.3L1157.6 787.5L1160.4 787.7L1163.2 787.9L1165.9 788.1L1168.7 788.3L1171.5 788.4L1174.3 788.6L1177.0 788.7L1179.8 788.8L1182.6 789.0L1185.4 789.1L1188.1 789.2L1190.9 789.2L1193.7 789.3L1196.5 789.4L1199.2 789.5L1202.0 789.5L1204.8 789.6L1207.6 789.7L1210.3 789.7L1213.1 789.7L1215.9 789.8L1218.7 789.8L1221.4 789.9L1224.2 789.9L1227.0 789.9L1229.8 789.9L1232.5 790.0L1235.3 790.0L1238.1 790.0L1240.9 790.0L1243.6 790.0L1246.4 790.1L1249.2 790.1L1252.0 790.1L1254.7 790.1L1257.5 790.1L1260.3 790.1L1263.1 790.1L1265.8 790.1L1268.6 790.1L1271.4 790.1L1274.2 790.2L1276.9 790.2L1279.7 790.2L1282.5 790.2L1285.3 790.2L1288.0 790.2L1290.8 790.2L1293.6 790.2L1296.4 790.2L1299.1 790.2L1301.9 790.2L1304.7 790.2L1307.5 790.2L1310.2 790.2L1313.0 790.2L1315.8 790.2L1318.6 790.2L1321.3 790.2L1324.1 790.2L1326.9 790.2L1329.7 790.2L1332.4 790.2L1335.2 790.2L1338.0 790.2L1340.8 790.2L1343.5 790.2L1346.3 790.2L1349.1 790.2L1351.9 790.2L1354.6 790.2L1357.4 790.2L1360.2 790.2L1363.0 790.2L1365.7 790.2L1368.5 790.2L1371.3 790.2L1374.1 790.2L1376.8 790.2L1379.6 790.2L1382.4 790.2L1385.2 790.2L1387.9 790.2L1390.7 790.2L1393.5 790.2L1396.3 790.2L1399.0 790.2L1401.8 790.2L1404.6 790.2L1407.4 790.2L1410.1 790.2L1412.9 790.2L1415.7 790.2L1418.5 790.2L1421.2 790.2L1424.0 790.2L1426.8 790.2L1429.6 790.2L1432.3 790.2L1435.1 790.2L1437.9 790.2L1440.7 790.2L1443.4 790.2L1446.2 790.2L1449.0 790.2L1451.8 790.2L1454.5 790.2L1457.3 790.2L1460.1 790.2L1462.9 790.2L1465.6 790.2L1468.4 790.2L1471.2 790.2L1474.0 790.2L1476.7 790.2L1479.5 790.2L1482.3 790.2L1485.1 790.2L1487.8 790.2L1490.6 790.2L1493.4 790.2" fill="none" stroke="#0c4a90" stroke-width="7" stroke-linejoin="round"/>
<path d="M105.80 788.20H397.20M1202.00 788.20H1493.40" stroke="#000" stroke-opacity="0.45" stroke-width="2.2" fill="none"/>
<path d="M104.60 790.30H1494.60" stroke="#00081a" stroke-width="2.3" fill="none"/>
<path d="M928.5 615.6L1089.3 489.3" stroke="#000" stroke-width="2.1" fill="none"/>
<circle cx="928.5" cy="615.6" r="5.6" fill="#000"/>
<circle cx="1129.6" cy="70" r="40" fill="#f7941d"/>
<g>
<text x="62.04" y="745.82" textLength="39.80" lengthAdjust="spacingAndGlyphs">0.5</text>
<text x="61.02" y="690.34" textLength="40.79" lengthAdjust="spacingAndGlyphs">1.0</text>
<text x="61.02" y="634.86" textLength="40.85" lengthAdjust="spacingAndGlyphs">1.5</text>
<text x="62.04" y="579.39" textLength="39.74" lengthAdjust="spacingAndGlyphs">2.0</text>
<text x="62.04" y="523.91" textLength="39.80" lengthAdjust="spacingAndGlyphs">2.5</text>
<text x="62.04" y="468.43" textLength="39.74" lengthAdjust="spacingAndGlyphs">3.0</text>
<text x="62.04" y="412.95" textLength="39.80" lengthAdjust="spacingAndGlyphs">3.5</text>
<text x="62.34" y="357.47" textLength="39.43" lengthAdjust="spacingAndGlyphs">4.0</text>
<text x="62.34" y="301.99" textLength="39.49" lengthAdjust="spacingAndGlyphs">4.5</text>
<text x="62.04" y="246.51" textLength="39.74" lengthAdjust="spacingAndGlyphs">5.0</text>
<text x="62.04" y="191.04" textLength="39.80" lengthAdjust="spacingAndGlyphs">5.5</text>
<text x="62.04" y="135.56" textLength="39.74" lengthAdjust="spacingAndGlyphs">6.0</text>
<text x="62.04" y="80.08" textLength="39.80" lengthAdjust="spacingAndGlyphs">6.5</text>
<text x="62.04" y="23.80" textLength="39.74" lengthAdjust="spacingAndGlyphs">7.0</text>
</g>
<g>
<text x="67.10" y="823.20" textLength="75.94" lengthAdjust="spacingAndGlyphs">-5000</text>
<text x="206.40" y="823.20" textLength="75.63" lengthAdjust="spacingAndGlyphs">-4000</text>
<text x="344.20" y="823.20" textLength="75.94" lengthAdjust="spacingAndGlyphs">-3000</text>
<text x="483.80" y="823.20" textLength="75.63" lengthAdjust="spacingAndGlyphs">-2000</text>
<text x="622.61" y="823.20" textLength="75.01" lengthAdjust="spacingAndGlyphs">-1000</text>
<text x="791.30" y="823.20" textLength="16.51" lengthAdjust="spacingAndGlyphs">0</text>
<text x="905.31" y="823.20" textLength="65.63" lengthAdjust="spacingAndGlyphs">1000</text>
<text x="1044.39" y="823.20" textLength="66.98" lengthAdjust="spacingAndGlyphs">2000</text>
<text x="1182.88" y="823.20" textLength="67.18" lengthAdjust="spacingAndGlyphs">3000</text>
<text x="1322.30" y="823.20" textLength="67.06" lengthAdjust="spacingAndGlyphs">4000</text>
<text x="1461.39" y="823.20" textLength="66.56" lengthAdjust="spacingAndGlyphs">5000</text>
</g>
<text><tspan x="848.08" y="153.20" textLength="50.49" lengthAdjust="spacingAndGlyphs">200</tspan> <tspan x="906.23" y="153.20" textLength="17.49" lengthAdjust="spacingAndGlyphs">K</tspan></text>
<text><tspan x="902.73" y="378.00" class="b" fill="#0c4a90" textLength="51.01" lengthAdjust="spacingAndGlyphs">300</tspan> <tspan x="961.19" y="378.00" class="b" fill="#0c4a90" textLength="19.62" lengthAdjust="spacingAndGlyphs">K</tspan></text>
<text><tspan x="939.59" y="493.10" fill="#1f9a3e" textLength="49.86" lengthAdjust="spacingAndGlyphs">500</tspan> <tspan x="996.15" y="493.10" fill="#1f9a3e" textLength="19.34" lengthAdjust="spacingAndGlyphs">K</tspan></text>
<text><tspan x="1001.28" y="590.00" fill="#f39a3c" textLength="50.49" lengthAdjust="spacingAndGlyphs">500</tspan> <tspan x="1059.16" y="590.00" fill="#f39a3c" textLength="18.18" lengthAdjust="spacingAndGlyphs">K</tspan></text>
<text><tspan x="1207.10" y="693.60" fill="#dc1f26" textLength="66.15" lengthAdjust="spacingAndGlyphs">2000</tspan> <tspan x="1281.76" y="693.60" fill="#dc1f26" textLength="18.18" lengthAdjust="spacingAndGlyphs">K</tspan></text>
<text><tspan x="1049.80" y="354.00" textLength="42.93" lengthAdjust="spacingAndGlyphs">the</tspan> <tspan x="1101.24" y="354.00" textLength="57.31" lengthAdjust="spacingAndGlyphs">area</tspan> <tspan x="1168.53" y="354.00" textLength="81.97" lengthAdjust="spacingAndGlyphs">under</tspan> <tspan x="1259.70" y="354.00" textLength="43.65" lengthAdjust="spacingAndGlyphs">the</tspan> <tspan x="1310.72" y="354.00" textLength="81.88" lengthAdjust="spacingAndGlyphs">graph</tspan></text>
<text><tspan x="1048.63" y="393.70" textLength="146.06" lengthAdjust="spacingAndGlyphs">represents</tspan> <tspan x="1204.10" y="393.70" textLength="41.90" lengthAdjust="spacingAndGlyphs">the</tspan> <tspan x="1255.09" y="393.70" textLength="154.19" lengthAdjust="spacingAndGlyphs">percentage</tspan></text>
<text xml:space="preserve"><tspan x="1050.04" y="433.30" textLength="26.21" lengthAdjust="spacingAndGlyphs">of</tspan> <tspan x="1084.19" y="433.30" textLength="114.57" lengthAdjust="spacingAndGlyphs">particles</tspan> <tspan x="1207.15" y="433.30" textLength="25.05" lengthAdjust="spacingAndGlyphs">in</tspan> <tspan x="1241.50" y="433.30" textLength="43.65" lengthAdjust="spacingAndGlyphs">the</tspan>  <tspan x="1299.34" y="433.30" textLength="117.73" lengthAdjust="spacingAndGlyphs">respecti-</tspan></text>
<text><tspan x="1050.20" y="473.10" textLength="29.48" lengthAdjust="spacingAndGlyphs">ve</tspan> <tspan x="1087.83" y="473.10" textLength="81.02" lengthAdjust="spacingAndGlyphs">speed</tspan> <tspan x="1177.92" y="473.10" textLength="88.17" lengthAdjust="spacingAndGlyphs">range!</tspan></text>
<text><tspan x="701.93" y="856.20" textLength="83.69" lengthAdjust="spacingAndGlyphs">Speed</tspan> <tspan x="794.10" y="855.90" font-size="33" class="s" textLength="11.82" lengthAdjust="spacingAndGlyphs">v</tspan><tspan x="809.73" y="862.00" font-size="24" class="s" textLength="10.03" lengthAdjust="spacingAndGlyphs">z</tspan> <tspan x="826.31" y="856.20" textLength="71.70" lengthAdjust="spacingAndGlyphs">(m/s)</tspan></text>
<text transform="rotate(-90)"><tspan x="-615.70" y="33.00" textLength="139.96" lengthAdjust="spacingAndGlyphs">Frequency</tspan> <tspan x="-469.15" y="33.00" textLength="99.14" lengthAdjust="spacingAndGlyphs">density</tspan> <tspan x="-364.90" y="33.30" font-size="31.5" class="s" textLength="11.58" lengthAdjust="spacingAndGlyphs">f</tspan> <tspan x="-345.49" y="33.00" textLength="35.03" lengthAdjust="spacingAndGlyphs">(in</tspan> <tspan x="-301.91" y="33.00" textLength="31.49" lengthAdjust="spacingAndGlyphs">10</tspan><tspan x="-269.49" y="23.60" font-size="18" textLength="14.80" lengthAdjust="spacingAndGlyphs">-4</tspan> <tspan x="-246.82" y="33.00" textLength="60.63" lengthAdjust="spacingAndGlyphs">s/m)</tspan></text>
<text stroke-width="1.2" stroke-linejoin="round" paint-order="stroke"><tspan stroke="#000" x="1092.68" y="83.60" font-size="38.6" textLength="22.58" lengthAdjust="spacingAndGlyphs">T</tspan><tspan stroke="#000" x="1115.90" y="83.60" font-size="38.6" textLength="25.76" lengthAdjust="spacingAndGlyphs">E</tspan><tspan stroke="#000" x="1141.91" y="83.60" font-size="38.6" textLength="25.08" lengthAdjust="spacingAndGlyphs">C</tspan><tspan stroke="#000" x="1160.86" y="80.60" font-size="38.6" textLength="23.40" lengthAdjust="spacingAndGlyphs">-</tspan><tspan stroke="#1b86d8" x="1184.04" y="83.60" font-size="38.6" fill="#1b86d8" textLength="26.12" lengthAdjust="spacingAndGlyphs">S</tspan><tspan stroke="#000" x="1211.56" y="83.60" font-size="38.6" textLength="24.50" lengthAdjust="spacingAndGlyphs">C</tspan><tspan stroke="#000" x="1239.06" y="83.60" font-size="38.6" textLength="8.00" lengthAdjust="spacingAndGlyphs">I</tspan><tspan stroke="#000" x="1247.55" y="83.60" font-size="38.6" textLength="25.27" lengthAdjust="spacingAndGlyphs">E</tspan><tspan stroke="#000" x="1274.60" y="83.60" font-size="38.6" textLength="25.97" lengthAdjust="spacingAndGlyphs">N</tspan><tspan stroke="#000" x="1301.71" y="83.60" font-size="38.6" textLength="25.19" lengthAdjust="spacingAndGlyphs">C</tspan><tspan stroke="#000" x="1328.50" y="83.60" font-size="38.6" textLength="25.76" lengthAdjust="spacingAndGlyphs">E</tspan><tspan stroke="#000" x="1356.23" y="83.60" font-size="38.6" textLength="9.19" lengthAdjust="spacingAndGlyphs">.</tspan><tspan stroke="#1b86d8" x="1365.51" y="83.60" font-size="38.6" fill="#1b86d8" textLength="25.19" lengthAdjust="spacingAndGlyphs">C</tspan><tspan stroke="#1b86d8" x="1393.72" y="83.60" font-size="38.6" fill="#1b86d8" textLength="25.59" lengthAdjust="spacingAndGlyphs">O</tspan><tspan stroke="#1b86d8" x="1420.42" y="83.60" font-size="38.6" fill="#1b86d8" textLength="30.90" lengthAdjust="spacingAndGlyphs">M</tspan></text>
</svg>
</body></html>
